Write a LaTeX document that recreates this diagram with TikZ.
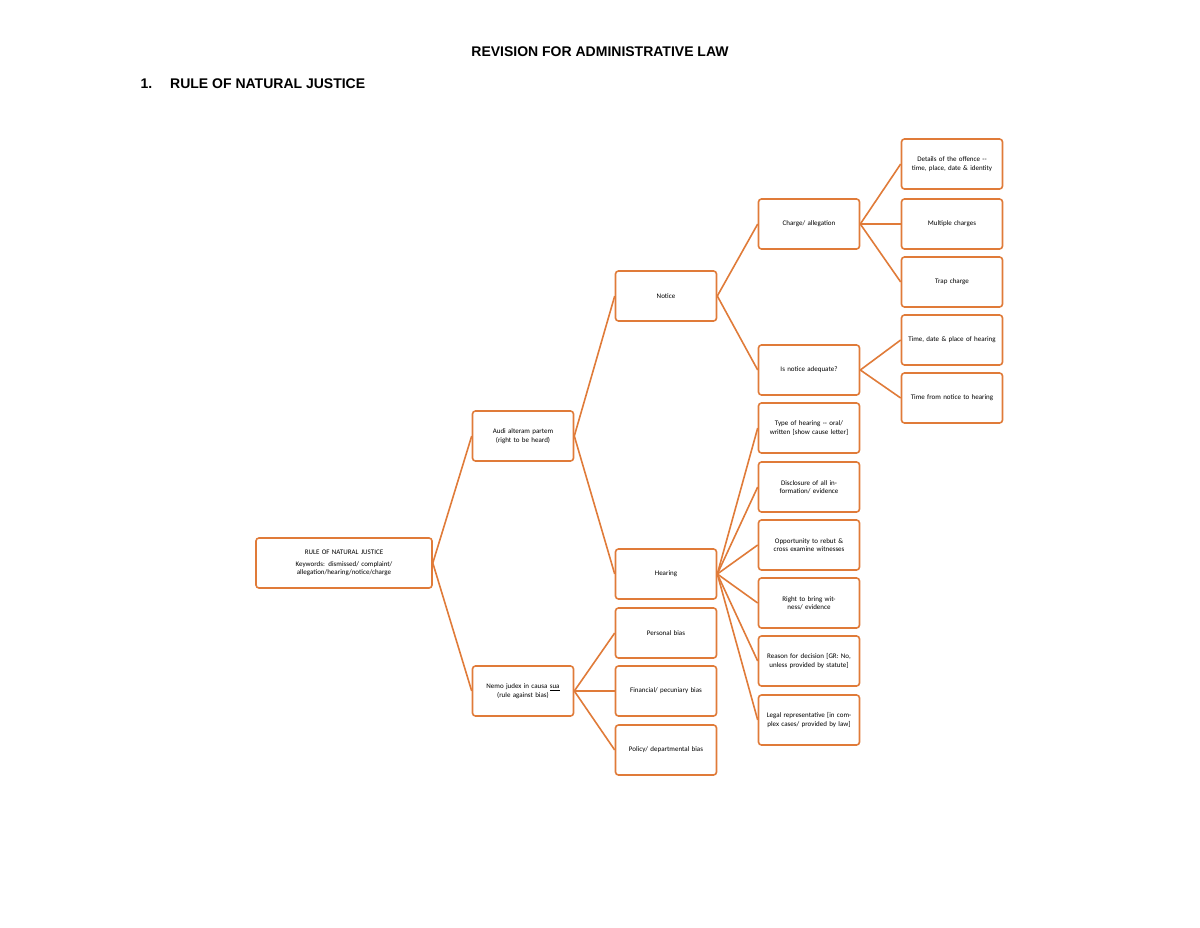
\documentclass[tikz,border=0pt]{standalone}
\usepackage{fontspec}
\setmainfont{Liberation Sans}
\newfontfamily\boxfont{Carlito}
\begin{document}
\begin{tikzpicture}[x=1pt,y=-1pt,
  bx/.style={draw=edgeor,line width=1.6pt,rounded corners=3pt,fill=white,minimum width=101pt,minimum height=50pt,text width=92pt,align=center,font=\boxfont\fontsize{7}{8.5}\selectfont,inner sep=2pt},
  wide/.style={minimum width=176pt,text width=168pt},
  ln/.style={draw=edgeor,line width=1.6pt}]
\definecolor{edgeor}{HTML}{E07B39}
\useasboundingbox[fill=white] (0,0) rectangle (1200,927);
\node[font=\bfseries\fontsize{14}{16}\selectfont] (title) at (600,52) {REVISION FOR ADMINISTRATIVE LAW};
\node[font=\bfseries\fontsize{14}{16}\selectfont,anchor=west] (sec) at (137,84) {1.\hspace{18pt}RULE OF NATURAL JUSTICE};
\node[bx,wide] (root) at (344,563) {RULE OF NATURAL JUSTICE\\[3pt]Keywords: dismissed/ complaint/ allegation/hearing/notice/charge};
\node[bx] (audi) at (523,436) {Audi alteram partem\\(right to be heard)};
\node[bx] (nemo) at (523,691) {Nemo judex in causa \underline{sua}\\(rule against bias)};
\node[bx] (notice) at (666,296) {Notice};
\node[bx] (hear) at (666,574) {Hearing};
\node[bx] (pers) at (666,633) {Personal bias};
\node[bx] (fin) at (666,691) {Financial/ pecuniary bias};
\node[bx] (pol) at (666,750) {Policy/ departmental bias};
\node[bx] (charge) at (809,224) {Charge/ allegation};
\node[bx] (adeq) at (809,370) {Is notice adequate?};
\node[bx] (h1) at (809,428) {Type of hearing -- oral/ written [show cause letter]};
\node[bx] (h2) at (809,487) {Disclosure of all information/ evidence};
\node[bx] (h3) at (809,545) {Opportunity to rebut \& cross examine witnesses};
\node[bx] (h4) at (809,603) {Right to bring witness/ evidence};
\node[bx] (h5) at (809,661) {Reason for decision [GR: No, unless provided by statute]};
\node[bx] (h6) at (809,720) {Legal representative [in complex cases/ provided by law]};
\node[bx] (c1) at (952,164) {Details of the offence -- time, place, date \& identity};
\node[bx] (c2) at (952,224) {Multiple charges};
\node[bx] (c3) at (952,282) {Trap charge};
\node[bx] (a1) at (952,340) {Time, date \& place of hearing};
\node[bx] (a2) at (952,398) {Time from notice to hearing};
\foreach \p/\c in {root/audi,root/nemo,audi/notice,audi/hear,nemo/pers,nemo/fin,nemo/pol,notice/charge,notice/adeq,hear/h1,hear/h2,hear/h3,hear/h4,hear/h5,hear/h6,charge/c1,charge/c2,charge/c3,adeq/a1,adeq/a2}
  \draw[ln] (\p.east) -- (\c.west);
\end{tikzpicture}
\end{document}
